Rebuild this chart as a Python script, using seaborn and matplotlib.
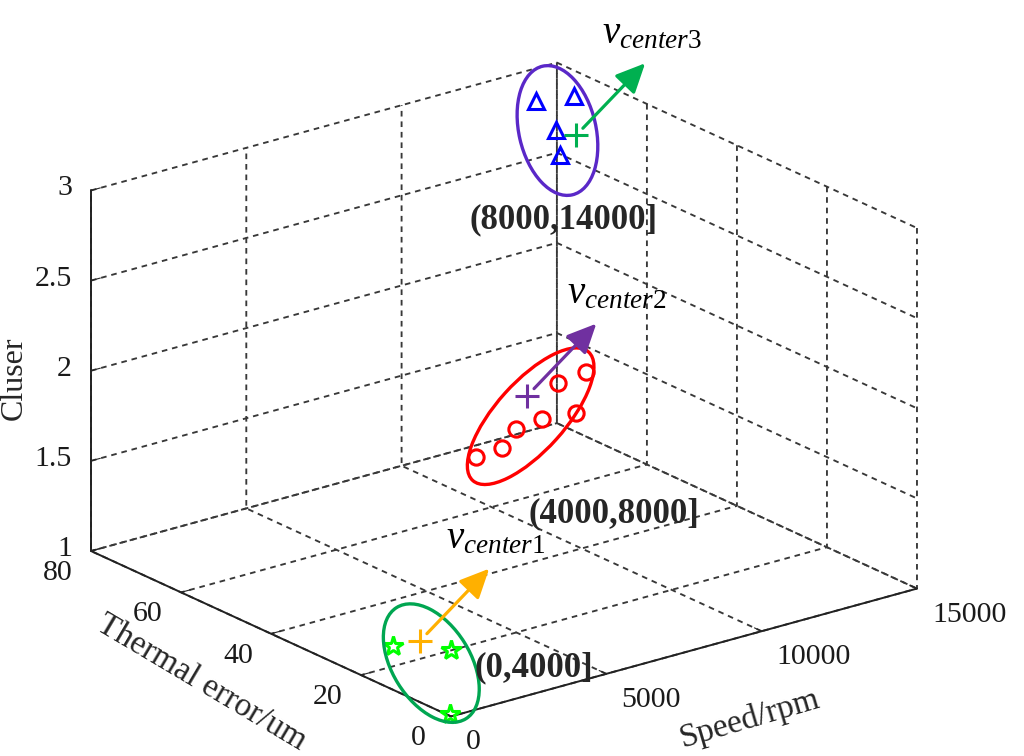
import numpy as np
import pandas as pd
import matplotlib
matplotlib.use("Agg")
import matplotlib.pyplot as plt
import seaborn as sns
from matplotlib.patches import Ellipse
from mpl_toolkits.mplot3d import proj3d

# ── valores ──────────────────────────────────────────────────────
speed_c1 = [100, 1900, 2900]
thermal_c1 = [1, 26, 20]
speed_c2 = [4000, 4900, 6000, 6950, 7950, 8900, 9900]
thermal_c2 = [22.0, 22.6, 26.9, 27.8, 27.0, 37.6, 38.4]
speed_c3 = [11000, 12000, 12900, 13900]
thermal_c3 = [51.6, 59.6, 70.2, 68.6]

cluster_ids = [1, 2, 3]
center_speed = [2700, 7700, 12200]
center_thermal = [25.5, 36.2, 56.4]
range_labels = ["(0,4000]", "(4000,8000]", "(8000,14000]"]
center_labels = [r"$v_{center\mathrm{1}}$", r"$v_{center\mathrm{2}}$", r"$v_{center\mathrm{3}}$"]

speed_ticks = [0, 5000, 10000, 15000]
thermal_ticks = [0, 20, 40, 60, 80]
cluster_ticks = [1, 1.5, 2, 2.5, 3]

df = pd.concat([
    pd.DataFrame({"speed": speed_c1, "thermal": thermal_c1, "cluster": 1}),
    pd.DataFrame({"speed": speed_c2, "thermal": thermal_c2, "cluster": 2}),
    pd.DataFrame({"speed": speed_c3, "thermal": thermal_c3, "cluster": 3}),
], ignore_index=True)
centers = pd.DataFrame({"speed": center_speed, "thermal": center_thermal,
                        "cluster": cluster_ids})

# ── estilo ───────────────────────────────────────────────────────
sns.set_style("white")
plt.rcParams["font.family"] = ["Liberation Serif", "DejaVu Serif"]
plt.rcParams["mathtext.fontset"] = "custom"
plt.rcParams["mathtext.rm"] = "Liberation Serif"
plt.rcParams["mathtext.it"] = "Liberation Serif:italic"
plt.rcParams["grid.color"] = "#383838"
plt.rcParams["grid.linestyle"] = (0, (3, 2.6))
plt.rcParams["grid.linewidth"] = 1.35

point_style = {
    1: dict(marker="*", mec="#00FF00", ms=15),
    2: dict(marker="o", mec="#FF0000", ms=11),
    3: dict(marker="^", mec="#0000FF", ms=12),
}
center_color = {1: "#FFB000", 2: "#7030A0", 3: "#00B050"}
ellipse_style = {  # cor, largura, altura, ângulo (px)
    1: ("#00A651", 78, 131, -32),
    2: ("#FF0000", 69, 173, 42),
    3: ("#5A28C8", 77, 132, -13),
}
ellipse_nudge = {1: (0, -7), 2: (-6, -1), 3: (1, 10)}
arrow_offset = (69, -72)
vlabel_offset = {1: (-43, -20), 2: (-29, -20), 3: (-43, -20)}
range_offset = {1: (114, 27), 2: (87, 118), 3: (-13, 85)}
tick_color = "#1a1a1a"

W, H = 1024, 756
fig = plt.figure(figsize=(W / 100, H / 100), dpi=100)
ax = fig.add_axes([0.1, 0.1, 0.8, 0.8], projection="3d", proj_type="ortho")

for cid, grp in df.groupby("cluster"):
    ax.plot(grp["speed"], grp["thermal"], grp["cluster"], ls="none",
            mfc="none", mew=2.2, **point_style[cid])
for _, row in centers.iterrows():
    ax.plot([row["speed"]], [row["thermal"]], [row["cluster"]], ls="none",
            marker="+", ms=17, mew=2.2, color=center_color[int(row["cluster"])])

ax.set_xlim(0, 15000)
ax.set_ylim(0, 80)
ax.set_zlim(1, 3)
ax.set_xticks(speed_ticks)
ax.set_yticks(thermal_ticks)
ax.set_zticks(cluster_ticks)
ax.set_xticklabels([])
ax.set_yticklabels([])
ax.set_zticklabels([])
ax.set_box_aspect((1, 1, 0.655))
ax.view_init(elev=20.8, azim=-127.7)

for a in (ax.xaxis, ax.yaxis, ax.zaxis):
    a.set_pane_color((1, 1, 1, 0))
    a.pane.set_edgecolor((1, 1, 1, 0))
    a.line.set_color("#222222")
    a.line.set_linewidth(1.4)
    a._axinfo["tick"]["inward_factor"] = 0.0
    a._axinfo["tick"]["outward_factor"] = 0.25

# ── encaixa o cubo na posição da figura original ─────────────────
def screen(x, y, z):
    x2, y2, _ = proj3d.proj_transform(x, y, z, ax.get_proj())
    return np.array(ax.transData.transform((x2, y2)))

fig.canvas.draw()
tgt_left = np.array([91, H - 551])
tgt_right = np.array([917, H - 588])
p_left, p_right = screen(0, 80, 1), screen(15000, 0, 1)
k = np.linalg.norm(tgt_right - tgt_left) / np.linalg.norm(p_right - p_left)
bb = ax.get_position()
c0 = np.array([(bb.x0 + bb.width / 2) * W, (bb.y0 + bb.height / 2) * H])
side = bb.width * W * k
c1 = tgt_left - k * (p_left - c0)
ax.set_position([(c1[0] - side / 2) / W, (c1[1] - side / 2) / H, side / W, side / H])
fig.canvas.draw()


def px(x, y, z):
    d = screen(x, y, z)
    return d[0], H - d[1]


# ── anotações 2D por cima ────────────────────────────────────────
ov = fig.add_axes([0, 0, 1, 1], zorder=5)
ov.set_xlim(0, W)
ov.set_ylim(H, 0)
ov.axis("off")

# rótulos dos ticks, no estilo MATLAB
for s in speed_ticks:
    x0, y0 = px(s, 0, 1)
    ov.text(x0 + 15, y0 + 26, f"{s}", fontsize=21.5, color=tick_color,
            ha="left", va="center")
for t in thermal_ticks:
    x0, y0 = px(0, t, 1)
    ov.text(x0 - 33, y0 + 22, f"{t}", fontsize=21.5, color=tick_color,
            ha="center", va="center")
for z in cluster_ticks:
    x0, y0 = px(0, 80, z)
    ov.text(x0 - 19, y0 - 2, f"{z:g}", fontsize=21.5, color=tick_color,
            ha="right", va="center")

for cid, grp in df.groupby("cluster"):
    pts = np.array([px(s, t, cid) for s, t in zip(grp["speed"], grp["thermal"])])
    col, ew, eh, ang = ellipse_style[cid]
    cx, cy = pts.mean(axis=0) + np.array(ellipse_nudge[cid])
    ov.add_patch(Ellipse((cx, cy), ew, eh, angle=ang, fill=False,
                         edgecolor=col, lw=2.4))

for i, row in centers.iterrows():
    cid = int(row["cluster"])
    x0, y0 = px(row["speed"], row["thermal"], cid)
    tip = (x0 + arrow_offset[0], y0 + arrow_offset[1])
    ov.annotate("", xy=tip, xytext=(x0, y0),
                arrowprops=dict(arrowstyle="-|>,head_length=0.9,head_width=0.42",
                                color=center_color[cid], lw=2.3,
                                shrinkA=7, shrinkB=0, mutation_scale=20))
    dx, dy = vlabel_offset[cid]
    ov.text(tip[0] + dx, tip[1] + dy, center_labels[i], fontsize=28,
            ha="left", va="baseline", color="black")
    rx, ry = range_offset[cid]
    ov.text(x0 + rx, y0 + ry, range_labels[i], fontsize=25,
            fontweight="bold", ha="center", va="center")

ov.text(14, 378, "Cluser", fontsize=23, rotation=90, ha="center", va="center")
ov.text(201, 683, "Thermal error/um", fontsize=24, rotation=-30.7,
        ha="center", va="center", rotation_mode="anchor")
ov.text(750, 719, "Speed/rpm", fontsize=24, rotation=16.4,
        ha="center", va="center", rotation_mode="anchor")

fig.savefig("out.png", dpi=100)
